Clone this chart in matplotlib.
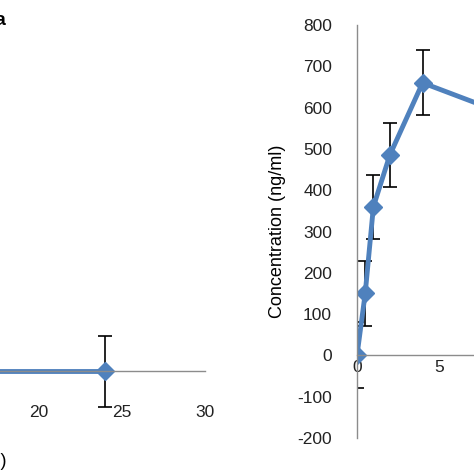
import matplotlib.pyplot as plt

plt.rcParams['font.family'] = ['Liberation Sans', 'DejaVu Sans']
plt.rcParams['axes.unicode_minus'] = False

# panel a (only the tail is visible in the crop)
a_time = [0, 0.5, 1, 2, 4, 8, 12, 24]
a_conc = [0, 120, 300, 420, 560, 300, 0, 0]
a_err = [80, 80, 80, 80, 80, 80, 80, 85]

# panel b
b_time = [0, 0.5, 1, 2, 4, 8, 12, 24]
b_conc = [0, 150, 360, 485, 660, 600, 350, 0]
b_err = [80, 78, 77, 78, 79, 80, 80, 80]

W = H = 474
blue = '#4F81BD'


def px_axes(fig, left, bottom, width, height):
    return fig.add_axes([left / W, bottom / H, width / W, height / H])


def style(ax, ypad):
    ax.spines['top'].set_visible(False)
    ax.spines['right'].set_visible(False)
    ax.spines['bottom'].set_position(('data', 0))
    for s in ('left', 'bottom'):
        ax.spines[s].set_color('#8c8c8c')
        ax.spines[s].set_linewidth(1)
    ax.tick_params(length=0, labelsize=12.5, colors='#222222')
    ax.tick_params(axis='x', pad=ypad)
    ax.set_ylim(-200, 800)
    ax.set_yticks(range(-200, 801, 100))
    ax.set_xticks(range(0, 31, 5))
    ax.set_xlim(0, 30)
    ax.patch.set_alpha(0)


fig = plt.figure(figsize=(W / 100, H / 100), dpi=100)

ax1 = px_axes(fig, -293, 20, 498, 413)
ax1.errorbar(a_time, a_conc, yerr=a_err, color=blue, lw=3.5, marker='D',
             ms=9, ecolor='black', elinewidth=1.2, capsize=5, capthick=1.2)
style(ax1, 24)
ax1.set_xlabel('Time (hours)', fontsize=13, labelpad=24)
fig.text(-0.012, 0.975, 'a', fontsize=14, fontweight='bold', va='top')

ax2 = px_axes(fig, 357, 36, 492, 413)
ax2.errorbar(b_time, b_conc, yerr=b_err, color=blue, lw=3.5, marker='D',
             ms=9, ecolor='black', elinewidth=1.2, capsize=5, capthick=1.2)
style(ax2, 3)
ax2.tick_params(axis='y', pad=18)
ax2.set_ylabel('Concentration (ng/ml)', fontsize=13, labelpad=8)

fig.savefig('out.png', dpi=100)
